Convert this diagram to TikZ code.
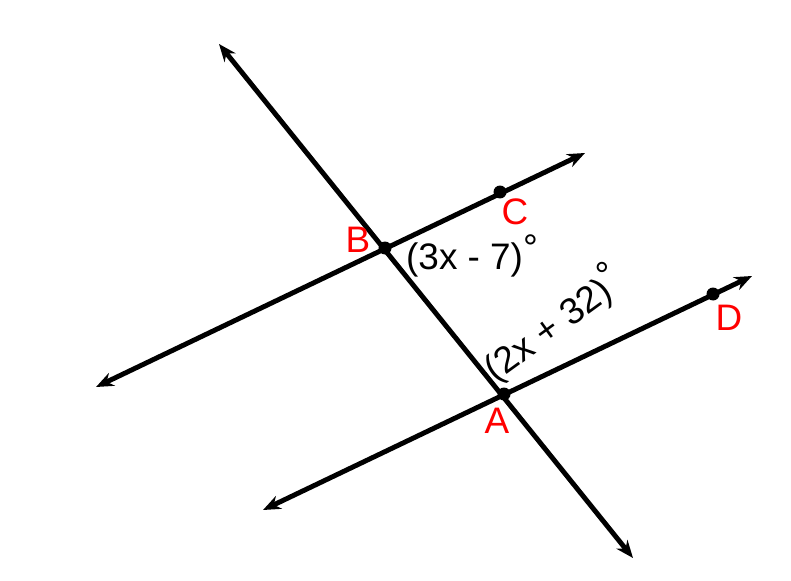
\documentclass[tikz,border=0pt]{standalone}
\usepackage{fontspec}
\setmainfont{Liberation Sans}
\usetikzlibrary{arrows.meta}

\begin{document}
\begin{tikzpicture}[x=0.02cm, y=-0.02cm, line width=2.8pt,
		ptlabel/.style={text=red, inner sep=0pt, font=\fontsize{21}{25}\selectfont},
		anglabel/.style={inner sep=0pt, font=\fontsize{21}{25}\selectfont}]
	\useasboundingbox (0,0) rectangle (791,581);

	% points on the lines
	\coordinate (B) at (385,248);
	\coordinate (C) at (500,192);
	\coordinate (A) at (504,394);
	\coordinate (D) at (713,294);

	% free ends of the lines
	\coordinate (t1) at (219,44);
	\coordinate (t2) at (633,558);
	\coordinate (b1) at (96,387);
	\coordinate (b2) at (585,153);
	\coordinate (a1) at (263,510);
	\coordinate (a2) at (752,276);

	\begin{scope}[{Stealth[length=10pt, width=8pt]}-{Stealth[length=10pt, width=8pt]}]
		\draw (t1) -- (t2);
		\draw (b1) -- (b2);
		\draw (a1) -- (a2);
	\end{scope}

	\foreach \p in {A,B,C,D}
	{
		\fill (\p) circle [radius=0.13cm];
	}

	\node [ptlabel] (labB) at (358,240) {B};
	\node [ptlabel] (labC) at (515,212) {C};
	\node [ptlabel] (labA) at (497,421) {A};
	\node [ptlabel] (labD) at (729,318) {D};

	\node [anglabel] (angB) at (472,256) {(3x - 7)\raisebox{0.5ex}{°}};
	\node [anglabel, rotate=36] (angA) at (553,324) {(2x + 32)\raisebox{0.5ex}{°}};
\end{tikzpicture}
\end{document}
